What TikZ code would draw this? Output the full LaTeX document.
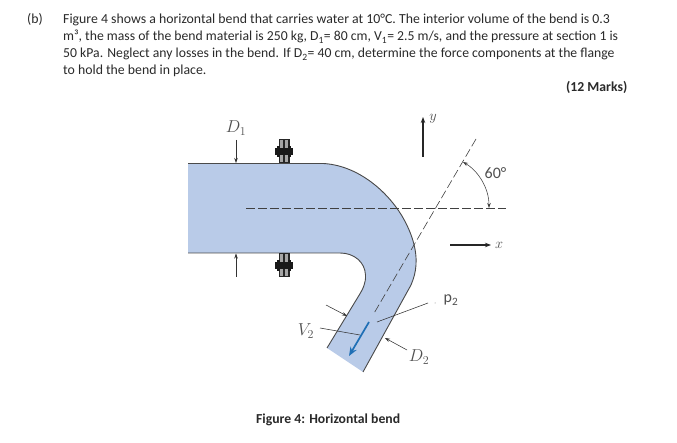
\documentclass[tikz,border=0pt]{standalone}
\usepackage{fontspec}
\setmainfont{Carlito}
\usetikzlibrary{arrows.meta}
\definecolor{bendfill}{HTML}{B9CBE8}
\definecolor{edgegray}{HTML}{4A4A4A}
\definecolor{flowblue}{HTML}{1F6FB5}
\definecolor{inktext}{HTML}{2A2A2A}
\definecolor{sym}{HTML}{505050}
\tikzset{
  body/.style={anchor=base west,inner sep=0pt,text=inktext,font=\fontsize{13.8}{15}\selectfont},
  bodytight/.style={anchor=base west,inner sep=0pt,text=inktext,font=\fontsize{13.7}{15}\selectfont},
  boldt/.style={anchor=base west,inner sep=0pt,text=inktext,font=\fontsize{13.7}{15}\selectfont\bfseries},
  mathl/.style={inner sep=0pt,text=sym,font=\fontsize{17.5}{19}\selectfont},
  smallm/.style={inner sep=0pt,text=sym,font=\fontsize{14}{16}\selectfont},
  thin line/.style={draw=black!80,line width=0.55pt},
  tipline/.style={draw=black!80,line width=0.55pt,-{Stealth[length=5pt,width=3.5pt]}},
  dashline/.style={draw=black!75,line width=0.6pt,dash pattern=on 8.5pt off 3.5pt},
  axis/.style={draw=black!85,line width=1.1pt,-{Stealth[length=6pt,width=4.5pt]}},
}
\newcommand{\flangebolt}[2]{%
  \fill[black!85] (#1-5.5,#2) rectangle (#1+5.5,#2+24);
  \fill[black!35] (#1-3.6,#2+1) rectangle (#1-0.8,#2+23);
  \fill[black!35] (#1+0.8,#2+1) rectangle (#1+3.6,#2+23);
  \fill[black!90] (#1-9,#2+9) rectangle (#1+9,#2+16);
  \fill[black!90] (#1-7,#2+7) rectangle (#1-3.6,#2+18);
  \fill[black!90] (#1+3.6,#2+7) rectangle (#1+7,#2+18);
}
\begin{document}
\begin{tikzpicture}[x=1pt,y=-1pt]
\useasboundingbox (0,0) rectangle (677,443);
\fill[white] (0,0) rectangle (677,443);
% text
\node[body] (b) at (27,24) {(b)};
\node[body] (l1) at (63,24) {Figure 4 shows a horizontal bend that carries water at 10°C. The interior volume of the bend is 0.3};
\node[bodytight] (l2) at (63,41) {m³, the mass of the bend material is 250 kg, D\textsubscript{1}= 80 cm, V\textsubscript{1}= 2.5 m/s, and the pressure at section 1 is};
\node[bodytight] (l3) at (63,58) {50 kPa. Neglect any losses in the bend. If D\textsubscript{2}= 40 cm, determine the force components at the flange};
\node[body] (l4) at (63,74.5) {to hold the bend in place.};
\node[boldt] (marks) at (566,92) {(12 Marks)};
\node[boldt] (cap) at (256,423) {Figure 4: Horizontal bend};
% bend
\path[fill=bendfill] (188,163.5) -- (323,163.5)
  .. controls (355,165) and (385,188) .. (402,216)
  .. controls (412,233) and (417,250) .. (416,265)
  .. controls (415.5,272) and (414,278) .. (411,285)
  -- (363,372) -- (327,348) -- (358,297)
  .. controls (363,289) and (366,283) .. (365.5,275)
  .. controls (365,262) and (354,253) .. (340,253)
  -- (188,253) -- cycle;
\draw[edgegray,line width=0.9pt] (188,163.5) -- (323,163.5)
  .. controls (355,165) and (385,188) .. (402,216)
  .. controls (412,233) and (417,250) .. (416,265)
  .. controls (415.5,272) and (414,278) .. (411,285)
  -- (363,372);
\draw[edgegray,line width=0.9pt] (327,348) -- (358,297)
  .. controls (363,289) and (366,283) .. (365.5,275)
  .. controls (365,262) and (354,253) .. (340,253)
  -- (188,253);
% flanges
\flangebolt{284}{139}
\flangebolt{284}{253}
% centre lines
\draw[dashline] (246,208.5) -- (506,208.5);
\draw[dashline] (476,139) -- (373,315);
% D1 dimension arrows
\node[mathl] (d1) at (236,128) {$D_1$};
\coordinate (d1a) at (236,140);
\coordinate (d1b) at (236,163);
\coordinate (d1c) at (236,277);
\coordinate (d1d) at (236,253.5);
\draw[tipline] (d1a) -- (d1b);
\draw[tipline] (d1c) -- (d1d);
% axes
\coordinate (ya) at (423,157);
\coordinate (yb) at (423,117);
\draw[axis] (ya) -- (yb);
\node[smallm] (ylab) at (433,119) {$y$};
\coordinate (xa) at (450,245);
\coordinate (xb) at (491,245);
\draw[axis] (xa) -- (xb);
\node[smallm] (xlab) at (499,245) {$x$};
% 60 degree arc
\draw[draw=black!75,line width=0.55pt,{Stealth[length=5pt,width=3.5pt]}-{Stealth[length=5pt,width=3.5pt]}]
  (463,162) .. controls (479,171.5) and (489,189) .. (489,208);
\node[inner sep=0pt,text=sym,font=\fontsize{16}{18}\selectfont] (ang) at (495.5,173) {60°};
% flow arrow
\draw[flowblue,line width=1.7pt,-{Stealth[length=9pt,width=7pt]}] (369,322) -- (349,356);
% leaders
\node[mathl] (v2) at (306,331) {$V_2$};
\node[mathl] (d2) at (419,357) {$D_2$};
\node[inner sep=0pt,text=sym,font=\fontsize{16}{18}\selectfont] (p2) at (451,300) {p\textsubscript{2}};
\draw[thin line] (320,328) -- (360,335);
\draw[thin line] (377,322) -- (428,303);
\fill[black!50] (435,303) circle (0.5pt);
\draw[tipline] (326,305) -- (347,316);
\draw[tipline] (407,350) -- (385,338);
\end{tikzpicture}
\end{document}
